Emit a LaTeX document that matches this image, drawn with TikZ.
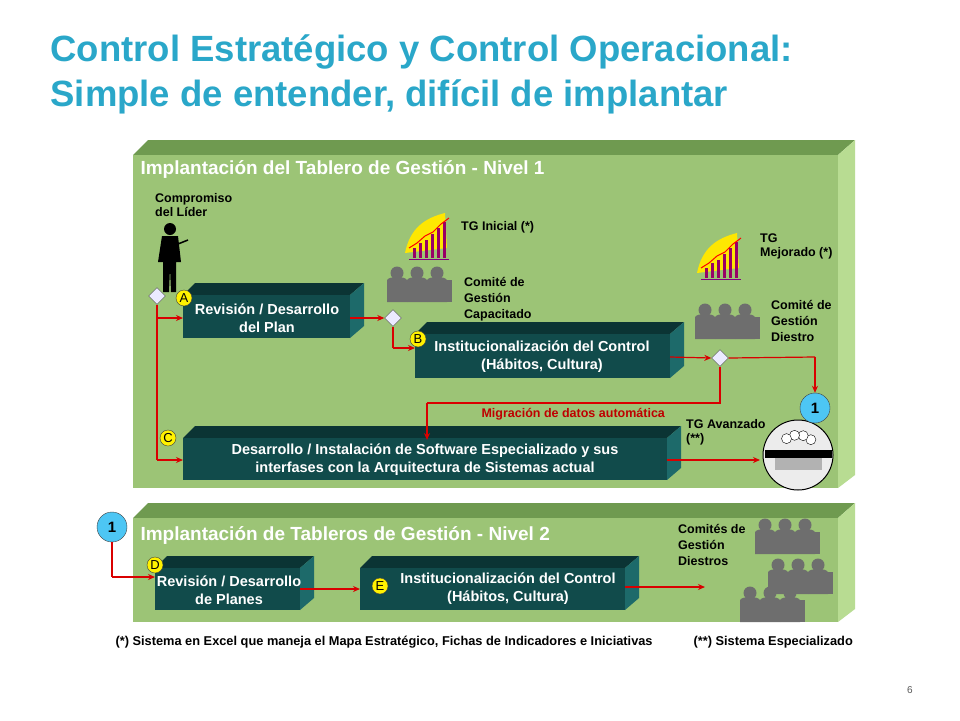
\documentclass[tikz,border=0pt]{standalone}
\usepackage{fontspec}
\setmainfont{Liberation Sans}
\usetikzlibrary{shapes.geometric,arrows.meta,calc}
\begin{document}
\begin{tikzpicture}[x=1pt,y=-1pt,
  lbl/.style={font=\bfseries\fontsize{12.5}{14}\selectfont,align=left,anchor=north west,inner sep=0},
  boxtxt/.style={font=\bfseries\fontsize{14.5}{18}\selectfont,white,align=center},
  arr/.style={draw=red!85!black,line width=1.2pt,-{Stealth[length=7pt,width=6pt]}},
  ln/.style={draw=red!85!black,line width=1.2pt},
  dia/.style={diamond,draw=gray!60!black,fill=blue!8,minimum size=17pt,inner sep=0},
  letter/.style={circle,draw=gray!50!black,fill=yellow,minimum size=16pt,inner sep=0,font=\fontsize{13}{13}\selectfont},
  one/.style={circle,draw=gray!50!black,fill=cyan!70,minimum size=30pt,inner sep=0,font=\bfseries\fontsize{15}{15}\selectfont}]
\useasboundingbox (0,0) rectangle (960,720);
\fill[white] (0,0) rectangle (960,720);
\definecolor{tblue}{HTML}{2AA7C9}
\definecolor{gfront}{HTML}{9CC476}
\definecolor{gtop}{HTML}{6F9A50}
\definecolor{gside}{HTML}{B8DC92}
\definecolor{tfront}{HTML}{114B4B}
\definecolor{ttop}{HTML}{0B3434}
\definecolor{tside}{HTML}{1D6A6A}
\definecolor{pgray}{HTML}{6E6E6E}
\newcommand{\panel}[4]{% x1 y1 x2 y2 (front)
  \fill[gtop] (#1,#2)--(#1+15,#2-15)--(#3+17,#2-15)--(#3,#2)--cycle;
  \fill[gside] (#3,#2)--(#3+17,#2-15)--(#3+17,#4-13)--(#3,#4)--cycle;
  \fill[gfront] (#1,#2) rectangle (#3,#4);}
\newcommand{\tbox}[4]{%
  \fill[ttop] (#1,#2)--(#1+12,#2-12)--(#3+14,#2-12)--(#3,#2)--cycle;
  \fill[tside] (#3,#2)--(#3+14,#2-12)--(#3+14,#4-12)--(#3,#4)--cycle;
  \fill[tfront] (#1,#2) rectangle (#3,#4);}
\newcommand{\people}[2]{%
  \begin{scope}[shift={(#1,#2)}]
  \fill[pgray] (0,34) rectangle (65,12);
  \foreach \px in {10,30,50}{\fill[pgray] (\px,5) circle (6.5);\fill[pgray] (\px-10,12) .. controls (\px-8,8) and (\px+8,8) .. (\px+10,12) -- (\px+10,34) -- (\px-10,34) -- cycle;}
  \end{scope}}
\newcommand{\chart}[2]{%
  \begin{scope}[shift={(#1,#2)}]
  \fill[yellow!90!orange] (0,35)..controls (5,10) and (20,0)..(40,-5)--(42,30)--cycle;
  \foreach \bx/\bh in {8/10,14/15,20/18,26/24,32/30,38/36}{\fill[violet!80!red] (\bx,40) rectangle (\bx+3,40-\bh);}
  \draw[red,line width=1pt] (4,30)--(12,25)--(20,18)--(28,14)--(36,6)--(44,0);
  \draw[violet,line width=1pt] (4,41)--(44,41);
  \end{scope}}
% title
\node[anchor=west,text=tblue,font=\bfseries\fontsize{36.5}{38}\selectfont] (t1) at (47,52) {Control Estratégico y Control Operacional:};
\node[anchor=west,text=tblue,font=\bfseries\fontsize{36.5}{38}\selectfont] (t2) at (47,97) {Simple de entender, difícil de implantar};
% panels
\panel{133}{155}{838}{488}
\panel{133}{518}{838}{622}
\node[anchor=west,white,font=\bfseries\fontsize{19}{20}\selectfont] (p1) at (137,170) {Implantación del Tablero de Gestión - Nivel 1};
\node[anchor=west,white,font=\bfseries\fontsize{19}{20}\selectfont] (p2) at (137,535) {Implantación de Tableros de Gestión - Nivel 2};
% boxes
\tbox{183}{295}{350}{338}
\tbox{415}{334}{670}{378}
\tbox{183}{438}{667}{480}
\tbox{155}{568}{300}{610}
\tbox{360}{568}{625}{610}
\node[boxtxt] (A) at (267,318) {Revisión / Desarrollo\\del Plan};
\node[boxtxt] (B) at (542,357) {Institucionalización del Control\\(Hábitos, Cultura)};
\node[boxtxt] (C) at (425,460) {Desarrollo / Instalación de Software Especializado y sus\\interfases con la Arquitectura de Sistemas actual};
\node[boxtxt] (D) at (229,590) {Revisión / Desarrollo\\de Planes};
\node[boxtxt] (E) at (508,589) {Institucionalización del Control\\(Hábitos, Cultura)};
\node[letter] (la) at (184,298) {A};
\node[letter] (lb) at (418,339) {B};
\node[letter] (lc) at (168,438) {C};
\node[letter] (ld) at (155,565) {D};
\node[letter] (le) at (380,586) {E};
% leader
\fill[black] (170,229) circle (6);
\fill[black] (162,236)--(178,236)--(181,262)--(176,262)--(176,292)--(171,292)--(170,268)--(169,292)--(163,292)--(163,262)--(158,262)--cycle;
\draw[black,line width=1.5pt] (178,244)--(188,240);
\node[lbl] (lider) at (155,193) {Compromiso\\del Líder};
% diamonds
\node[dia] (d1) at (157,296) {};
\node[dia] (d2) at (393,318) {};
\node[dia] (d3) at (720,358) {};
% graphics
\chart{405}{218}
\chart{697}{238}
\people{387}{268}
\people{695}{305}
\people{755}{520}
\people{768}{560}
\people{740}{588}
\node[lbl] (tgi) at (461,221) {TG Inicial (*)};
\node[lbl] (tgm) at (760,234) {TG\\Mejorado (*)};
\node[lbl,font=\bfseries\fontsize{12.5}{16}\selectfont] (cg1) at (464,277) {Comité de\\Gestión\\Capacitado};
\node[lbl,font=\bfseries\fontsize{12.5}{16}\selectfont] (cg2) at (771,300) {Comité de\\Gestión\\Diestro};
\node[lbl] (tga) at (686,419) {TG Avanzado\\(**)};
\node[lbl,font=\bfseries\fontsize{12.5}{16}\selectfont] (cg3) at (678,524) {Comités de\\Gestión\\Diestros};
\node[anchor=west,font=\bfseries\fontsize{12.5}{14}\selectfont,text=red!75!black] (mig) at (478,414) {Migración de datos automática};
% meter
\node[circle,draw=black,fill=gray!15,line width=1pt,minimum size=70pt] (meter) at (798,455) {};
\fill[black] (765,450) rectangle (832,458);
\fill[gray!60] (775,458) rectangle (822,470);
\foreach \a in {130,105,80,55}{\draw[fill=white] ($(798,455)+(\a:-20)$) circle (5);}
\node[one] (o1) at (815,408) {1};
\node[one] (o2) at (112,527) {1};
% connectors
\coordinate (c1) at (157,460);
\draw[ln] (d1.south)--(c1);
\draw[arr] (c1)--(183,460);
\draw[arr] (157,318)--(183,318);
\draw[arr] (350,318)--(d2.west);
\draw[ln] (d2.south)--(393,348);
\draw[arr] (393,348)--(415,348);
\draw[arr] (670,357)--(d3.west);
\draw[ln] (d3.east)--(815,357);
\draw[arr] (815,357)--(o1.north);
\draw[ln] (d3.south)--(720,403)--(427,403);
\draw[arr] (427,403)--(427,440);
\draw[arr] (667,460)--(760,460);
\draw[ln] (o2.south)--(112,577);
\draw[arr] (112,577)--(155,577);
\draw[arr] (300,589)--(360,589);
\draw[arr] (625,587)--(705,587);
% footer
\node[anchor=west,font=\bfseries\fontsize{12.8}{14}\selectfont] (f1) at (112,642) {(*) Sistema en Excel que maneja el Mapa Estratégico, Fichas de Indicadores e Iniciativas};
\node[anchor=west,font=\bfseries\fontsize{12.8}{14}\selectfont] (f2) at (690,642) {(**) Sistema Especializado};
\node[font=\fontsize{10}{10}\selectfont,gray!70!black] (pg) at (910,690) {6};
\end{tikzpicture}
\end{document}
